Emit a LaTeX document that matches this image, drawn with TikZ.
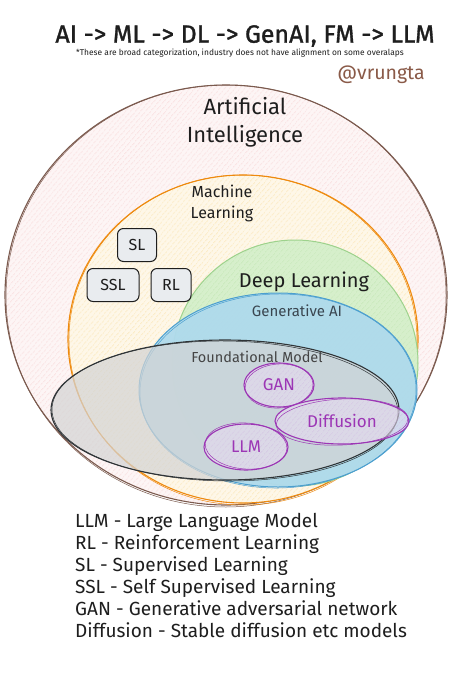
\documentclass[tikz,border=0pt]{standalone}
\usepackage{fontspec}
\setmainfont{Fira Sans}
\usetikzlibrary{patterns.meta}
\definecolor{inkC}{HTML}{1E1E1E}
\definecolor{aiStroke}{HTML}{7B5A4E}
\definecolor{aiFill}{HTML}{FDF5F5}
\definecolor{aiHatch}{HTML}{F5C6C7}
\definecolor{mlStroke}{HTML}{EE8A0E}
\definecolor{mlFill}{HTML}{FEF7E8}
\definecolor{mlHatch}{HTML}{F8D88E}
\definecolor{dlStroke}{HTML}{9DD28C}
\definecolor{dlFill}{HTML}{D6EFCB}
\definecolor{dlHatch}{HTML}{B9E2A8}
\definecolor{gaStroke}{HTML}{4C9FCF}
\definecolor{gaFill}{HTML}{AFDAEC}
\definecolor{fmStroke}{HTML}{2F3437}
\definecolor{fmFill}{HTML}{D4D4D4}
\definecolor{puStroke}{HTML}{9C36B5}
\definecolor{puFill}{HTML}{E7DAF0}
\definecolor{puHatch}{HTML}{CDB4E0}
\definecolor{boxFill}{HTML}{E9ECEF}
\definecolor{handleC}{HTML}{8A5A48}
\definecolor{gaText}{HTML}{3A4650}
\definecolor{fmText}{HTML}{444444}
\begin{document}
\begin{tikzpicture}[x=1pt,y=-1pt,
  hatch/.style={pattern={Lines[angle=50,distance=4pt,line width=0.5pt]}, pattern color=#1},
  boxnode/.style={draw=inkC, line width=1pt, fill=boxFill, rounded corners=6pt, inner sep=0pt,
    font=\fontsize{16}{18}\selectfont, text=inkC},
  purplelabel/.style={text=puStroke, font=\fontsize{17}{20}\selectfont},
  sketch/.style={line width=0.5pt}
]
\useasboundingbox (0,0) rectangle (460,673);
\fill[white] (0,0) rectangle (460,673);

% Artificial Intelligence
\path[preaction={fill=aiFill}, hatch=aiHatch] (226,295) ellipse [x radius=221pt, y radius=210pt];
\draw[aiStroke, line width=1.1pt] (226,295) ellipse [x radius=221pt, y radius=210pt];
\draw[aiStroke, sketch, rotate around={1.5:(226,295)}] (226,296) ellipse [x radius=220pt, y radius=211pt];

% Machine Learning
\path[preaction={fill=mlFill}, hatch=mlHatch] (243,339) ellipse [x radius=175pt, y radius=164pt];
\draw[mlStroke, line width=1.1pt] (243,339) ellipse [x radius=175pt, y radius=164pt];
\draw[mlStroke, sketch, rotate around={-1.5:(243,339)}] (243,340) ellipse [x radius=174pt, y radius=165pt];

% Deep Learning
\path[preaction={fill=dlFill}, hatch=dlHatch] (295,363) ellipse [x radius=123pt, y radius=123pt];
\draw[dlStroke, line width=1pt] (295,363) ellipse [x radius=123pt, y radius=123pt];

% Generative AI
\fill[gaFill, fill opacity=0.95] (278,390) ellipse [x radius=139pt, y radius=97pt];
\draw[gaStroke, line width=1pt] (278,390) ellipse [x radius=139pt, y radius=97pt];
\draw[gaStroke, sketch, rotate around={1:(278,390)}] (278,391) ellipse [x radius=138pt, y radius=97pt];

% Foundational Model
\fill[fmFill, fill opacity=0.72] (225,410) ellipse [x radius=174pt, y radius=70pt];
\draw[fmStroke, line width=1.1pt] (225,410) ellipse [x radius=174pt, y radius=70pt];
\draw[fmStroke, sketch, rotate around={-0.6:(225,410)}] (225,411) ellipse [x radius=173pt, y radius=70pt];

% Purple ellipses
\path[fill=puFill, fill opacity=0.6] (279,385) ellipse [x radius=35pt, y radius=22pt];
\path[hatch=puHatch] (279,385) ellipse [x radius=35pt, y radius=22pt];
\draw[puStroke, line width=1.1pt] (279,385) ellipse [x radius=35pt, y radius=22pt];
\draw[puStroke, sketch, rotate around={4:(279,385)}] (279,386) ellipse [x radius=34pt, y radius=22pt];

\path[fill=puFill, fill opacity=0.6] (342,421) ellipse [x radius=67pt, y radius=23pt];
\path[hatch=puHatch] (342,421) ellipse [x radius=67pt, y radius=23pt];
\draw[puStroke, line width=1.1pt] (342,421) ellipse [x radius=67pt, y radius=23pt];
\draw[puStroke, sketch, rotate around={3:(342,421)}] (342,422) ellipse [x radius=66pt, y radius=23pt];

\path[fill=puFill, fill opacity=0.6] (246,447) ellipse [x radius=42pt, y radius=23pt];
\path[hatch=puHatch] (246,447) ellipse [x radius=42pt, y radius=23pt];
\draw[puStroke, line width=1.1pt] (246,447) ellipse [x radius=42pt, y radius=23pt];
\draw[puStroke, sketch, rotate around={-4:(246,447)}] (246,446) ellipse [x radius=41pt, y radius=23pt];

% Titles
\node[text=inkC, font=\fontsize{25}{28}\selectfont\addfontfeatures{FakeBold=1.2}] (title) at (245,36) {AI -> ML -> DL -> GenAI, FM -> LLM};
\node[text=inkC, font=\fontsize{8.4}{9}\selectfont] (note) at (240,53) {*These are broad categorization, industry does not have alignment on some overalaps};
\node[text=handleC, font=\fontsize{19.5}{22}\selectfont] (handle) at (381,75) {@vrungta};

% Region labels
\node[text=inkC, align=center, font=\fontsize{22}{28}\selectfont] (ailabel) at (245,122) {Artificial\\Intelligence};
\node[text=inkC, align=center, font=\fontsize{16}{21}\selectfont] (mllabel) at (222,203) {Machine\\Learning};
\node[text=inkC, font=\fontsize{20}{22}\selectfont] (dllabel) at (304,282) {Deep Learning};
\node[text=gaText, font=\fontsize{15}{17}\selectfont] (galabel) at (297,311) {Generative AI};
\node[text=fmText, font=\fontsize{14.5}{17}\selectfont] (fmlabel) at (257,357) {Foundational Model};

% Purple labels
\node[purplelabel] (gan) at (279,385) {GAN};
\node[purplelabel] (diff) at (342,421) {Diffusion};
\node[purplelabel] (llm) at (246,447) {LLM};

% ML boxes
\node[boxnode, minimum width=39pt, minimum height=33pt] (sl) at (137,245) {SL};
\node[boxnode, minimum width=52pt, minimum height=33pt] (ssl) at (113,285) {SSL};
\node[boxnode, minimum width=40pt, minimum height=33pt] (rl) at (171,285) {RL};

% Legend
\node[anchor=north west, align=left, text=inkC, inner sep=0pt, font=\fontsize{19}{22}\selectfont] (legend) at (75,513)
{LLM - Large Language Model\\
RL - Reinforcement Learning\\
SL - Supervised Learning\\
SSL - Self Supervised Learning\\
GAN - Generative adversarial network\\
Diffusion - Stable diffusion etc models};
\end{tikzpicture}
\end{document}
